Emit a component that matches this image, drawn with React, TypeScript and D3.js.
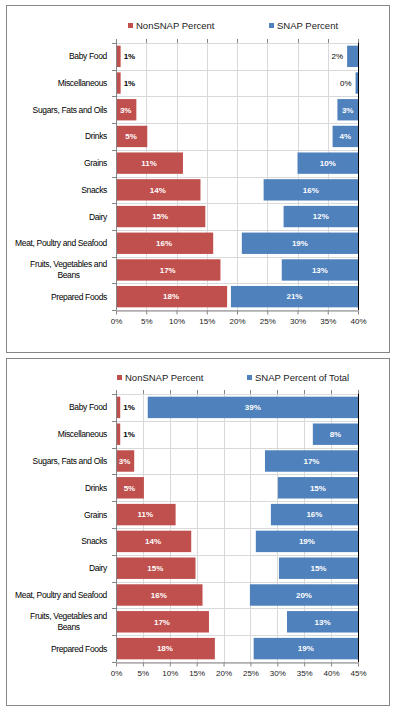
import React, { useRef, useEffect } from 'react';
import * as d3 from 'd3';

const categories = [
  'Baby Food',
  'Miscellaneous',
  'Sugars, Fats and Oils',
  'Drinks',
  'Grains',
  'Snacks',
  'Dairy',
  'Meat, Poultry and Seafood',
  'Fruits, Vegetables and Beans',
  'Prepared Foods',
];
const nonSnapPercent = [0.6, 0.6, 3.2, 5.0, 10.9, 13.8, 14.6, 15.9, 17.1, 18.2];
const snapPercent = [1.8, 0.4, 3.4, 4.2, 10.0, 15.6, 12.3, 19.2, 12.6, 21.0];
const snapPercentOfTotal = [39.1, 8.4, 17.3, 14.9, 16.2, 19.0, 14.7, 20.1, 13.2, 19.4];
const ticksTop = [0, 5, 10, 15, 20, 25, 30, 35, 40];
const ticksBottom = [0, 5, 10, 15, 20, 25, 30, 35, 40, 45];

const RED = '#C0504D';
const BLUE = '#4F81BD';
const GRID = '#D9D9D9';
const AXIS = '#868686';
const FONT = '"Liberation Sans", Arial, sans-serif';

// wrap long category names; multi-line labels are centred on their widest line
function wrap(text, width) {
  text.each(function () {
    const t = d3.select(this);
    const words = t.text().split(/\s+/);
    const x = +t.attr('x');
    const y = +t.attr('y');
    t.text(null);
    let line = [];
    const lines = [];
    const probe = t.append('tspan');
    words.forEach((w) => {
      line.push(w);
      probe.text(line.join(' '));
      if (probe.node().getComputedTextLength() > width && line.length > 1) {
        line.pop();
        lines.push(line.join(' '));
        line = [w];
        probe.text(w);
      }
    });
    lines.push(line.join(' '));
    let widest = 0;
    lines.forEach((l) => {
      probe.text(l);
      widest = Math.max(widest, probe.node().getComputedTextLength());
    });
    t.text(null);
    const lh = 11;
    const y0 = y - ((lines.length - 1) * lh) / 2;
    if (lines.length > 1) t.attr('text-anchor', 'middle');
    const cx = lines.length > 1 ? x - widest / 2 : x;
    lines.forEach((l, i) => {
      t.append('tspan').attr('x', cx).attr('y', y0 + i * lh).attr('dy', '0.35em').text(l);
    });
  });
}

function drawChart(svg, opts) {
  const { box, plot, max, ticks, left, right, legend, legendY } = opts;

  svg.append('rect')
    .attr('x', box.x + 0.5).attr('y', box.y + 0.5)
    .attr('width', box.w).attr('height', box.h)
    .attr('fill', '#fff').attr('stroke', AXIS).attr('stroke-width', 1);

  const x = d3.scaleLinear().domain([0, max]).range([plot.left, plot.right]);
  const xr = d3.scaleLinear().domain([0, max]).range([plot.right, plot.left]);
  const y = d3.scaleBand().domain(categories).range([plot.top, plot.bottom]).paddingInner(0.2).paddingOuter(0.1);
  const bandStep = (plot.bottom - plot.top) / categories.length;

  const g = svg.append('g');

  // vertical grid
  g.selectAll('.vgrid').data(ticks).enter().append('line')
    .attr('x1', (d) => Math.round(x(d)) + 0.5).attr('x2', (d) => Math.round(x(d)) + 0.5)
    .attr('y1', plot.top).attr('y2', plot.bottom)
    .attr('stroke', GRID);
  // top ticks (secondary axis)
  g.selectAll('.ttick').data(ticks).enter().append('line')
    .attr('x1', (d) => Math.round(x(d)) + 0.5).attr('x2', (d) => Math.round(x(d)) + 0.5)
    .attr('y1', plot.top - 4).attr('y2', plot.top)
    .attr('stroke', AXIS);
  // horizontal separators
  const seps = d3.range(categories.length + 1).map((i) => plot.top + i * bandStep);
  g.selectAll('.hgrid').data(seps).enter().append('line')
    .attr('x1', plot.left - 4).attr('x2', plot.right)
    .attr('y1', (d) => Math.round(d) + 0.5).attr('y2', (d) => Math.round(d) + 0.5)
    .attr('stroke', GRID);
  g.selectAll('.ltick').data(seps).enter().append('line')
    .attr('x1', plot.left - 4).attr('x2', plot.left)
    .attr('y1', (d) => Math.round(d) + 0.5).attr('y2', (d) => Math.round(d) + 0.5)
    .attr('stroke', AXIS);

  // bottom axis
  const axis = g.append('g')
    .attr('transform', `translate(0, ${Math.round(plot.bottom) + 0.5})`)
    .call(d3.axisBottom(x).tickValues(ticks).tickFormat((d) => d + '%').tickSize(4).tickSizeOuter(0));
  axis.select('.domain').attr('stroke', AXIS);
  axis.selectAll('.tick line').attr('stroke', AXIS);
  axis.selectAll('.tick text')
    .attr('fill', '#222').attr('y', 8)
    .style('font-family', FONT).style('font-size', '8px');

  // left axis line
  g.append('line')
    .attr('x1', Math.round(plot.left) + 0.5).attr('x2', Math.round(plot.left) + 0.5)
    .attr('y1', plot.top - 4).attr('y2', plot.bottom)
    .attr('stroke', AXIS);

  // bars
  g.selectAll('.lbar').data(left).enter().append('rect')
    .attr('x', x(0) + 1)
    .attr('y', (d, i) => y(categories[i]))
    .attr('width', (d) => x(d) - x(0))
    .attr('height', y.bandwidth())
    .attr('fill', RED);
  g.selectAll('.rbar').data(right).enter().append('rect')
    .attr('x', (d) => xr(d))
    .attr('y', (d, i) => y(categories[i]))
    .attr('width', (d) => xr(0) - xr(d))
    .attr('height', y.bandwidth())
    .attr('fill', BLUE);

  // right axis line
  g.append('line')
    .attr('x1', Math.round(plot.right) + 0.5).attr('x2', Math.round(plot.right) + 0.5)
    .attr('y1', plot.top).attr('y2', plot.bottom)
    .attr('stroke', '#000');

  // value labels
  const small = 14;
  g.selectAll('.llab').data(left).enter().append('text')
    .attr('x', (d) => (x(d) - x(0) < small ? x(d) + 4 : (x(0) + x(d)) / 2))
    .attr('y', (d, i) => y(categories[i]) + y.bandwidth() / 2)
    .attr('dy', '0.35em')
    .attr('text-anchor', (d) => (x(d) - x(0) < small ? 'start' : 'middle'))
    .attr('fill', (d) => (x(d) - x(0) < small ? '#000' : '#fff'))
    .style('font-family', FONT).style('font-size', '8px').style('font-weight', 'bold')
    .text((d) => Math.round(d) + '%');
  g.selectAll('.rlab').data(right).enter().append('text')
    .attr('x', (d) => (xr(0) - xr(d) < small ? xr(d) - 4 : (xr(0) + xr(d)) / 2))
    .attr('y', (d, i) => y(categories[i]) + y.bandwidth() / 2)
    .attr('dy', '0.35em')
    .attr('text-anchor', (d) => (xr(0) - xr(d) < small ? 'end' : 'middle'))
    .attr('fill', (d) => (xr(0) - xr(d) < small ? '#000' : '#fff'))
    .style('font-family', FONT).style('font-size', '8px')
    .style('font-weight', (d) => (xr(0) - xr(d) < small ? 'normal' : 'bold'))
    .text((d) => Math.round(d) + '%');

  // category labels
  g.selectAll('.cat').data(categories).enter().append('text')
    .attr('x', plot.left - 9)
    .attr('y', (d) => y(d) + y.bandwidth() / 2)
    .attr('text-anchor', 'end')
    .attr('fill', '#000')
    .style('font-family', FONT).style('font-size', '8.5px').style('letter-spacing', '-0.35px')
    .text((d) => d)
    .call(wrap, 92);

  // legend
  legend.forEach((l) => {
    g.append('rect').attr('x', l.x).attr('y', legendY - 3).attr('width', 5).attr('height', 5).attr('fill', l.color);
    g.append('text')
      .attr('x', l.x + 8).attr('y', legendY).attr('dy', '0.35em')
      .attr('fill', '#222')
      .style('font-family', FONT).style('font-size', '9.5px')
      .text(l.label);
  });
}

function App() {
  const canvas = useRef(null);

  useEffect(() => {
    const svg = d3.select(canvas.current);
    svg.selectAll('*').remove();

    drawChart(svg, {
      box: { x: 6, y: 5, w: 383, h: 347 },
      plot: { left: 116, right: 358, top: 43, bottom: 310 },
      max: 40,
      ticks: ticksTop,
      left: nonSnapPercent,
      right: snapPercent,
      legendY: 26,
      legend: [
        { x: 128, color: RED, label: 'NonSNAP Percent' },
        { x: 269, color: BLUE, label: 'SNAP Percent' },
      ],
    });

    drawChart(svg, {
      box: { x: 6, y: 358, w: 383, h: 347 },
      plot: { left: 116, right: 358, top: 394, bottom: 662 },
      max: 45,
      ticks: ticksBottom,
      left: nonSnapPercent,
      right: snapPercentOfTotal,
      legendY: 378,
      legend: [
        { x: 117, color: RED, label: 'NonSNAP Percent' },
        { x: 247, color: BLUE, label: 'SNAP Percent of Total' },
      ],
    });
  }, []);

  return (
    <svg
      ref={canvas}
      width={396}
      height={711}
      style={{ position: 'absolute', left: 0, top: 0, background: '#fff' }}
    />
  );
}

export default App;
